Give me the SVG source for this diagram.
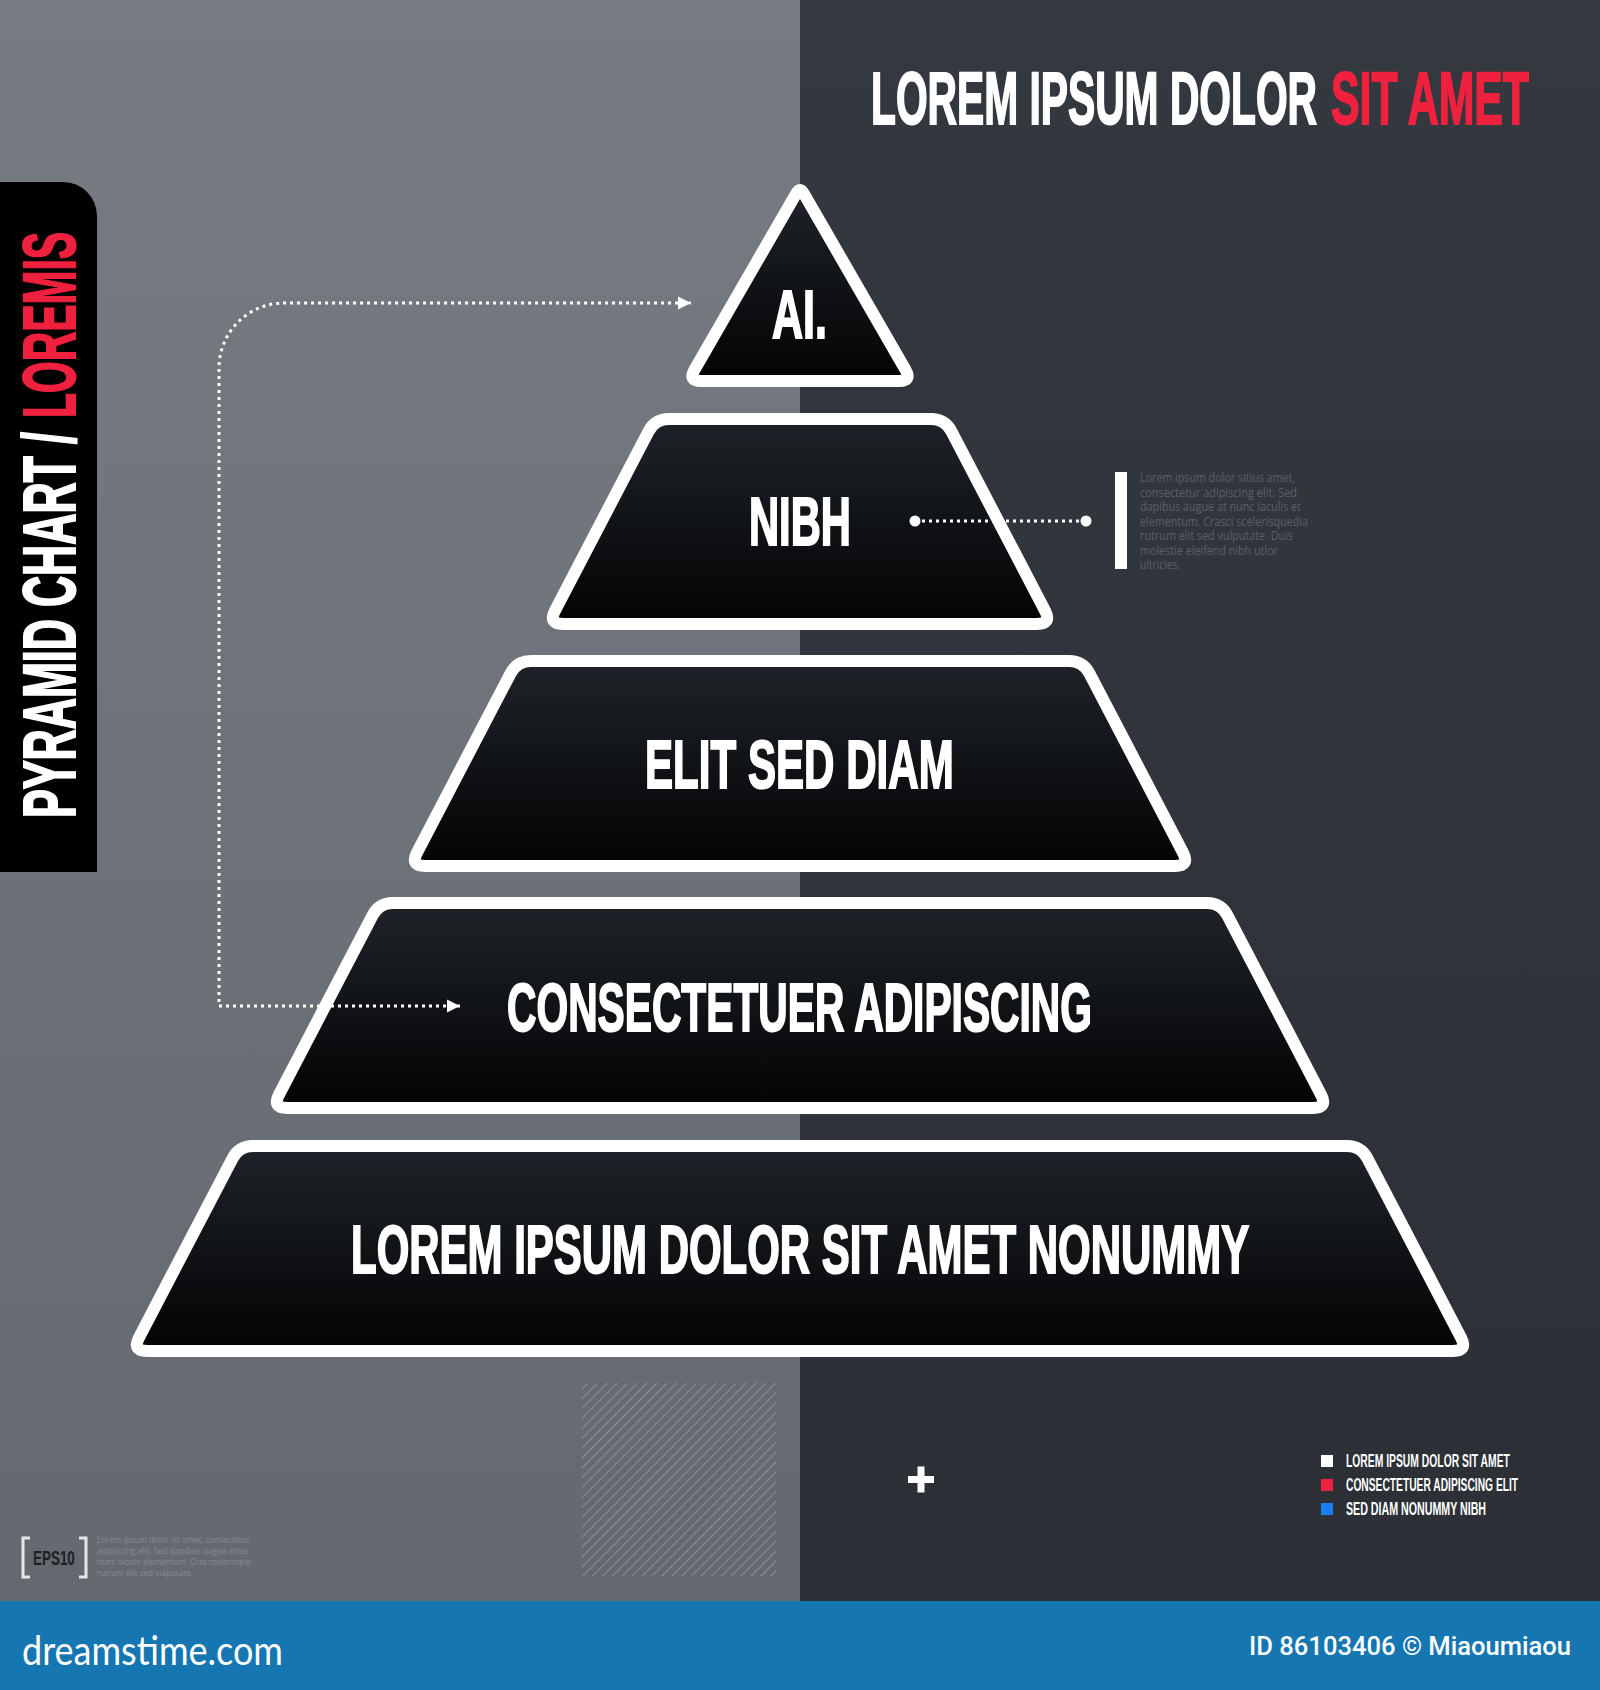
<svg xmlns="http://www.w3.org/2000/svg" width="1600" height="1690" viewBox="0 0 1600 1690">
<defs>
<linearGradient id="gLeft" x1="0" y1="0" x2="0" y2="1"><stop offset="0" stop-color="#777c83"/><stop offset="1" stop-color="#64696f"/></linearGradient>
<linearGradient id="gRight" x1="0" y1="0" x2="0" y2="1"><stop offset="0" stop-color="#34383f"/><stop offset="1" stop-color="#2c3036"/></linearGradient>
<linearGradient id="gTier" x1="0" y1="0" x2="0" y2="1"><stop offset="0" stop-color="#1f2329"/><stop offset="1" stop-color="#020304"/></linearGradient>
<pattern id="hatch" patternUnits="userSpaceOnUse" width="7" height="7" patternTransform="rotate(45)">
<line x1="0" y1="0" x2="0" y2="7" stroke="#8e949b" stroke-width="1.8"/>
</pattern>
<marker id="arr" markerUnits="userSpaceOnUse" markerWidth="14" markerHeight="14" viewBox="0 -7 14 14" refX="13" refY="0" orient="auto-start-reverse">
<path d="M0,-6.5 L13,0 L0,6.5 Z" fill="#ffffff"/>
</marker>
<style>
.tier{fill:url(#gTier);stroke:#ffffff;stroke-width:12;stroke-linejoin:round}
.lbl{font-family:"Liberation Sans","DejaVu Sans",sans-serif;font-weight:bold;fill:#ffffff;stroke:#ffffff;stroke-width:2;font-size:68px}
.head{font-family:"Liberation Sans","DejaVu Sans",sans-serif;font-weight:bold;stroke-width:2}
.dots{fill:none;stroke:#ffffff;stroke-width:3;stroke-dasharray:3 4}
.para{font-family:"Open Sans","Liberation Sans",sans-serif;font-size:12.5px;fill:#5b6068}
.small{font-family:"Open Sans","Liberation Sans",sans-serif;font-size:9.5px;fill:#868b92}
.leg{font-family:"Liberation Sans","DejaVu Sans",sans-serif;font-weight:bold;font-size:18px;fill:#ffffff}
</style>
</defs>

<g id="background">
<rect x="0" y="0" width="800" height="1601" fill="url(#gLeft)"/>
<rect x="800" y="0" width="800" height="1601" fill="url(#gRight)"/>
<rect x="582" y="1383" width="194" height="193" fill="url(#hatch)"/>
<rect x="908" y="1476" width="26" height="7" fill="#ffffff"/>
<rect x="917.5" y="1466.5" width="7" height="26" fill="#ffffff"/>
</g>

<g id="title">
<text class="head" transform="translate(871,124) scale(0.55,1)" x="0" y="0" font-size="75" fill="#ffffff" stroke="#ffffff" textLength="811" lengthAdjust="spacingAndGlyphs">LOREM IPSUM DOLOR</text>
<text class="head" transform="translate(1331,124) scale(0.55,1)" x="0" y="0" font-size="75" fill="#f0213f" stroke="#f0213f" textLength="360" lengthAdjust="spacingAndGlyphs">SIT AMET</text>
</g>

<g id="side-tab">
<path d="M0,182 H63 A34,34 0 0 1 97,216 V872 H0 Z" fill="#000000"/>
<text class="head" transform="translate(75,818) rotate(-90) scale(0.583,1)" x="0" y="0" font-size="74" fill="#ffffff" stroke="#ffffff" textLength="662" lengthAdjust="spacingAndGlyphs">PYRAMID CHART /</text>
<text class="head" transform="translate(75,418) rotate(-90) scale(0.552,1)" x="0" y="0" font-size="74" fill="#f0213f" stroke="#f0213f" textLength="337" lengthAdjust="spacingAndGlyphs">LOREMIS</text>
</g>

<g id="tier-1">
<path class="tier" d="M796.5,193.06 Q800,187 803.5,193.06 L905.5,369.74 Q912,381 899,381 L701,381 Q688,381 694.5,369.74 Z"/>
<text class="lbl" transform="translate(772,338) scale(0.755,1)" x="0" y="0" font-size="57" textLength="72.8" lengthAdjust="spacingAndGlyphs">AI.</text>
</g>

<g id="tier-2">
<path class="tier" d="M669,419 L931,419 Q945,419 951.48,431.41 L1045.06,610.7 Q1052,624 1037,624 L563,624 Q548,624 554.94,610.7 L648.52,431.41 Q655,419 669,419 Z"/>
<text class="lbl" transform="translate(749,545) scale(0.614,1)" x="0" y="0" textLength="166" lengthAdjust="spacingAndGlyphs">NIBH</text>
</g>

<g id="tier-3">
<path class="tier" d="M531,661 L1069,661 Q1083,661 1089.48,673.41 L1183.06,852.7 Q1190,866 1175,866 L425,866 Q410,866 416.94,852.7 L510.52,673.41 Q517,661 531,661 Z"/>
<text class="lbl" transform="translate(645,788) scale(0.62,1)" x="0" y="0" textLength="498" lengthAdjust="spacingAndGlyphs">ELIT SED DIAM</text>
</g>

<g id="tier-4">
<path class="tier" d="M393,903 L1207,903 Q1221,903 1227.48,915.41 L1321.06,1094.7 Q1328,1108 1313,1108 L287,1108 Q272,1108 278.94,1094.7 L372.52,915.41 Q379,903 393,903 Z"/>
<text class="lbl" transform="translate(507,1031) scale(0.6,1)" x="0" y="0" textLength="975" lengthAdjust="spacingAndGlyphs">CONSECTETUER ADIPISCING</text>
</g>

<g id="tier-5">
<path class="tier" d="M253,1146 L1347,1146 Q1361,1146 1367.48,1158.41 L1461.06,1337.7 Q1468,1351 1453,1351 L147,1351 Q132,1351 138.94,1337.7 L232.52,1158.41 Q239,1146 253,1146 Z"/>
<text class="lbl" transform="translate(351,1273) scale(0.616,1)" x="0" y="0" textLength="1458" lengthAdjust="spacingAndGlyphs">LOREM IPSUM DOLOR SIT AMET NONUMMY</text>
</g>

<g id="connectors">
<path class="dots" d="M460,1006 H219 V368 A65,65 0 0 1 284,303 H691" marker-start="url(#arr)" marker-end="url(#arr)"/>
<line class="dots" x1="915" y1="521" x2="1086" y2="521"/>
<circle cx="915" cy="521" r="5.5" fill="#ffffff"/>
<circle cx="1086" cy="521" r="5.5" fill="#ffffff"/>
</g>

<g id="note">
<rect x="1115" y="472" width="12" height="97" fill="#ffffff"/>
<text class="para" x="1140" y="482" textLength="155" lengthAdjust="spacingAndGlyphs">Lorem ipsum dolor sitius amet,</text>
<text class="para" x="1140" y="496.5" textLength="157" lengthAdjust="spacingAndGlyphs">consectetur adipiscing elit. Sed</text>
<text class="para" x="1140" y="511" textLength="161" lengthAdjust="spacingAndGlyphs">dapibus augue at nunc iaculis et</text>
<text class="para" x="1140" y="525.5" textLength="168" lengthAdjust="spacingAndGlyphs">elementum. Crasci scelerisquedia</text>
<text class="para" x="1140" y="540" textLength="153" lengthAdjust="spacingAndGlyphs">rutrum elit sed vulputate. Duis</text>
<text class="para" x="1140" y="554.5" textLength="138" lengthAdjust="spacingAndGlyphs">molestie eleifend nibh utlor</text>
<text class="para" x="1140" y="569" textLength="40" lengthAdjust="spacingAndGlyphs">ultricies.</text>
</g>

<g id="legend">
<rect x="1321" y="1455" width="12" height="12" fill="#ffffff"/>
<rect x="1321" y="1479" width="12" height="12" fill="#f0213f"/>
<rect x="1321" y="1503" width="12" height="12" fill="#1a7ef0"/>
<text class="leg" transform="translate(1346,1467) scale(0.573,1)" x="0" y="0" textLength="286" lengthAdjust="spacingAndGlyphs">LOREM IPSUM DOLOR SIT AMET</text>
<text class="leg" transform="translate(1346,1491) scale(0.568,1)" x="0" y="0" textLength="303" lengthAdjust="spacingAndGlyphs">CONSECTETUER ADIPISCING ELIT</text>
<text class="leg" transform="translate(1346,1515) scale(0.591,1)" x="0" y="0" textLength="237" lengthAdjust="spacingAndGlyphs">SED DIAM NONUMMY NIBH</text>
</g>

<g id="eps-badge">
<polyline points="30,1538 23,1538 23,1577 30,1577" fill="none" stroke="#e6e7e9" stroke-width="3"/>
<polyline points="79,1538 86,1538 86,1577 79,1577" fill="none" stroke="#e6e7e9" stroke-width="3"/>
<text transform="translate(33,1565) scale(0.675,1)" x="0" y="0" font-family="Liberation Sans, sans-serif" font-weight="bold" font-size="20" fill="#1d2024" textLength="62" lengthAdjust="spacingAndGlyphs">EPS10</text>
<text class="small" x="97" y="1543" textLength="153" lengthAdjust="spacingAndGlyphs">Lorem ipsum dolor sit amet, consectetur</text>
<text class="small" x="97" y="1554" textLength="151" lengthAdjust="spacingAndGlyphs">adipiscing elit. Sed dapibus augue attus</text>
<text class="small" x="97" y="1565" textLength="154" lengthAdjust="spacingAndGlyphs">nunc iaculis elementum. Cras scelerisque</text>
<text class="small" x="97" y="1576" textLength="96" lengthAdjust="spacingAndGlyphs">rutrum elit sed vulputate.</text>
</g>

<g id="footer">
<rect x="0" y="1601" width="1600" height="89" fill="#1576b1"/>
<text x="22" y="1665" font-family="Lato, 'Open Sans', sans-serif" font-size="40" fill="#ffffff" textLength="261" lengthAdjust="spacingAndGlyphs">dreamstime.com</text>
<text x="1249" y="1655" font-family="Roboto, 'Liberation Sans', sans-serif" font-weight="500" font-size="25" fill="#ffffff" textLength="322" lengthAdjust="spacingAndGlyphs">ID 86103406 © Miaoumiaou</text>
</g>
</svg>
